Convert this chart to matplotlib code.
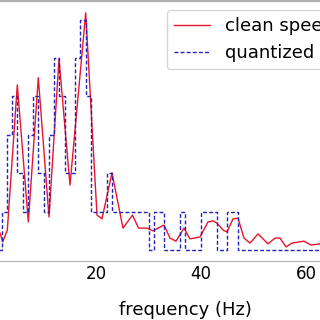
import matplotlib
matplotlib.use('Agg')
import matplotlib.pyplot as plt
import numpy as np

# clean speech spectrum (frequency in Hz, magnitude in quantization-level units)
f_clean = [1.68, 2.19, 3.07, 4.97, 7.07, 8.97, 11.01, 12.91, 15.01, 18.0,
           20.15, 21.10, 23.01, 25.10, 26.91, 28.06, 29.68, 30.82, 32.91, 34.06,
           35.20, 36.72, 37.87, 39.77, 41.30, 42.25, 43.01, 44.15, 44.91, 46.06,
           47.01, 48.15, 49.30, 50.82, 52.72, 54.06, 55.01, 56.15, 57.30, 59.58,
           60.91, 62.63]
a_clean = [0.44, 0.21, 0.52, 4.30, 0.73, 4.49, 0.86, 4.98, 1.69, 6.18,
           0.91, 0.81, 2.01, 0.57, 0.91, 0.57, 0.57, 0.50, 0.65, 0.31,
           0.23, 0.57, 0.29, 0.34, 0.73, 0.76, 0.70, 0.52, 0.47, 0.81,
           0.83, 0.31, 0.18, 0.42, 0.16, 0.31, 0.31, 0.08, 0.18, 0.23,
           0.13, 0.16]

# quantized spectrum: one level per 1 Hz bin, bins starting at 1 Hz
f_bins = np.arange(1, 64)
q_level = [0, 1, 3, 4, 2, 1, 3, 4, 2, 1,
           3, 5, 4, 2, 2, 5, 6, 4, 1, 1,
           1, 2, 1, 1, 1, 1, 1, 1, 1, 0,
           1, 1, 0, 0, 0, 1, 0, 0, 0, 1,
           1, 1, 0, 0, 1, 1, 0, 0, 0, 0,
           0, 0, 0, 0, 0, 0, 0, 0, 0, 0,
           0, 0, 0]

fig = plt.figure(figsize=(3.2, 3.2), dpi=100)
ax = fig.add_axes([0.0, 0.184, 1.0, 0.812])

ax.plot(f_clean, a_clean, '-', color='#e8152b', lw=1.0, label='clean speech')
ax.step(f_bins, q_level, '--', where='post', color='#2222bb', lw=1.0,
        dashes=(2.8, 1.6), label='quantized speech')

ax.set_xlim(1.676, 62.63)
ax.set_ylim(-0.29, 6.48)
ax.set_xticks([20, 40, 60])
ax.set_yticks([])
ax.tick_params(axis='x', length=0, pad=2.5, labelsize=12)
for s in ['left', 'right']:
    ax.spines[s].set_visible(False)
for s in ['top', 'bottom']:
    ax.spines[s].set_color('#b0b0b0')
ax.spines['top'].set_linewidth(1.6)

ax.set_xlabel('frequency (Hz)', fontsize=13)
ax.xaxis.set_label_coords(0.578, -0.188)
ax.xaxis.label.set_va('center')

fig.legend(loc='upper left', bbox_to_anchor=(0.522, 0.969),
           bbox_transform=fig.transFigure, borderaxespad=0, fontsize=13,
           handlelength=2.0)

fig.savefig('out.png', dpi=100)
